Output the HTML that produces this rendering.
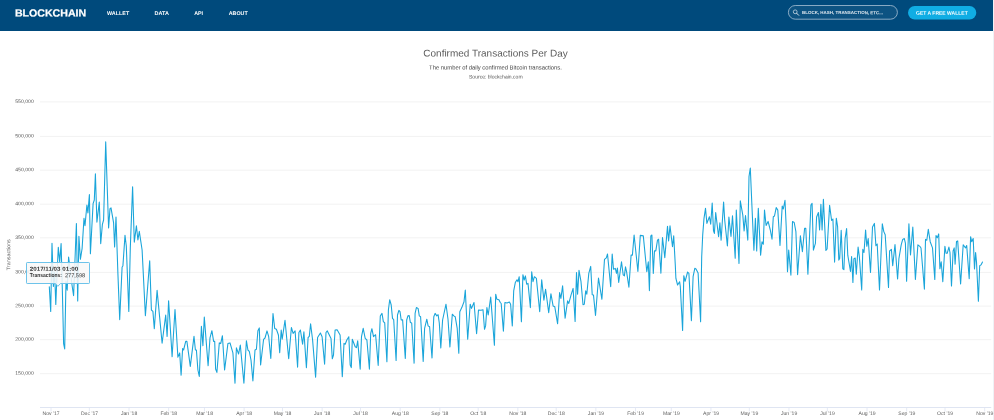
<!DOCTYPE html>
<html lang="en"><head><meta charset="utf-8"><title>Confirmed Transactions Per Day</title>
<style>
html,body{margin:0;padding:0;background:#fff;overflow:hidden}
body{width:994px;height:420px;position:relative;font-family:"Liberation Sans",sans-serif}
svg{position:absolute;left:0;top:0;display:block}
text{font-family:"Liberation Sans",sans-serif;text-rendering:geometricPrecision}
.b{font-weight:bold}
.ax{font-size:5.1px;fill:#5c5c5c}
.tt{font-family:"Liberation Sans",sans-serif;font-size:5.7px;fill:#333}
</style></head><body>
<svg width="994" height="420" viewBox="0 0 994 420">

<rect x="993" y="0" width="1" height="420" fill="#eff2f6"/>
<rect x="0" y="0" width="993" height="31" fill="#004a7c"/>
<text class="b" transform="rotate(0.03 50 16.5)" x="14.9" y="16.55" font-size="10.3" fill="#fff" stroke="#fff" stroke-width="0.2" textLength="71.3" lengthAdjust="spacingAndGlyphs">BLOCKCHAIN</text>
<text transform="rotate(0.03 107 14.9)" class="b" x="107" y="14.9" font-size="5.3" fill="#fff" textLength="22.2" lengthAdjust="spacingAndGlyphs">WALLET</text>
<text transform="rotate(0.03 154.5 14.9)" class="b" x="154.5" y="14.9" font-size="5.3" fill="#fff" textLength="14.4" lengthAdjust="spacingAndGlyphs">DATA</text>
<text transform="rotate(0.03 194.2 14.9)" class="b" x="194.2" y="14.9" font-size="5.3" fill="#fff" textLength="8.9" lengthAdjust="spacingAndGlyphs">API</text>
<text transform="rotate(0.03 228.7 14.9)" class="b" x="228.7" y="14.9" font-size="5.3" fill="#fff" textLength="19.0" lengthAdjust="spacingAndGlyphs">ABOUT</text>
<rect x="788.4" y="5.5" width="109" height="13.7" rx="6.85" ry="6.85" fill="#fff" fill-opacity="0.05" stroke="#a9c2d6" stroke-width="0.8"/>
<circle cx="795.2" cy="11.8" r="1.9" fill="none" stroke="#dbe6ee" stroke-width="0.7"/><path d="M796.7 13.3 L798.7 15.3" stroke="#dbe6ee" stroke-width="1" fill="none" stroke-linecap="round"/>
<text transform="rotate(0.03 802 14.1)" class="b" x="802" y="14.1" font-size="4.4" fill="#dfe8ef" textLength="81" lengthAdjust="spacingAndGlyphs">BLOCK, HASH, TRANSACTION, ETC...</text>
<rect x="908" y="6" width="68.3" height="13.4" rx="6.7" ry="6.7" fill="#10ade4"/>
<text transform="rotate(0.03 916 14.7)" class="b" x="916" y="14.7" font-size="5.2" fill="#fff" textLength="51.7" lengthAdjust="spacingAndGlyphs">GET A FREE WALLET</text>
<text transform="rotate(0.03 495.5 56.6)" x="495.5" y="56.6" font-size="9.8" fill="#5c5c5c" text-anchor="middle" textLength="144.4" lengthAdjust="spacingAndGlyphs">Confirmed Transactions Per Day</text>
<text transform="rotate(0.03 495.5 69.5)" x="495.5" y="69.5" font-size="6" fill="#444" text-anchor="middle" textLength="132.8" lengthAdjust="spacingAndGlyphs">The number of daily confirmed Bitcoin transactions.</text>
<text transform="rotate(0.03 495.8 78.5)" x="495.8" y="78.5" font-size="5.2" fill="#555" text-anchor="middle" textLength="53.6" lengthAdjust="spacingAndGlyphs">Source: blockchain.com</text>
<path d="M40 101.9 H991.2" stroke="#f2f2f2" stroke-width="1" fill="none"/>
<text transform="rotate(0.03 33.8 103.0)" class="ax" x="33.8" y="103.0" text-anchor="end" textLength="18.6" lengthAdjust="spacingAndGlyphs">550,000</text>
<path d="M40 136.4 H991.2" stroke="#f2f2f2" stroke-width="1" fill="none"/>
<text transform="rotate(0.03 33.8 137.5)" class="ax" x="33.8" y="137.5" text-anchor="end" textLength="18.6" lengthAdjust="spacingAndGlyphs">500,000</text>
<path d="M40 170.2 H991.2" stroke="#f2f2f2" stroke-width="1" fill="none"/>
<text transform="rotate(0.03 33.8 171.3)" class="ax" x="33.8" y="171.3" text-anchor="end" textLength="18.6" lengthAdjust="spacingAndGlyphs">450,000</text>
<path d="M40 204.2 H991.2" stroke="#f2f2f2" stroke-width="1" fill="none"/>
<text transform="rotate(0.03 33.8 205.3)" class="ax" x="33.8" y="205.3" text-anchor="end" textLength="18.6" lengthAdjust="spacingAndGlyphs">400,000</text>
<path d="M40 237.8 H991.2" stroke="#f2f2f2" stroke-width="1" fill="none"/>
<text transform="rotate(0.03 33.8 238.9)" class="ax" x="33.8" y="238.9" text-anchor="end" textLength="18.6" lengthAdjust="spacingAndGlyphs">350,000</text>
<path d="M40 272.4 H991.2" stroke="#f2f2f2" stroke-width="1" fill="none"/>
<text transform="rotate(0.03 33.8 273.5)" class="ax" x="33.8" y="273.5" text-anchor="end" textLength="18.6" lengthAdjust="spacingAndGlyphs">300,000</text>
<path d="M40 306.1 H991.2" stroke="#f2f2f2" stroke-width="1" fill="none"/>
<text transform="rotate(0.03 33.8 307.2)" class="ax" x="33.8" y="307.2" text-anchor="end" textLength="18.6" lengthAdjust="spacingAndGlyphs">250,000</text>
<path d="M40 339.7 H991.2" stroke="#f2f2f2" stroke-width="1" fill="none"/>
<text transform="rotate(0.03 33.8 340.8)" class="ax" x="33.8" y="340.8" text-anchor="end" textLength="18.6" lengthAdjust="spacingAndGlyphs">200,000</text>
<path d="M40 373.7 H991.2" stroke="#f2f2f2" stroke-width="1" fill="none"/>
<text transform="rotate(0.03 33.8 374.8)" class="ax" x="33.8" y="374.8" text-anchor="end" textLength="18.6" lengthAdjust="spacingAndGlyphs">150,000</text>
<text class="ax" transform="translate(10.3 254.8) rotate(-90.03)" text-anchor="middle" textLength="31" lengthAdjust="spacingAndGlyphs" font-size="5.3">Transactions</text>
<path d="M40 407.5 H991.2" stroke="#dfe5f2" stroke-width="1" fill="none"/>
<path d="M51.0 407.5 V411.5" stroke="#dfe5f2" stroke-width="0.8" fill="none"/>
<text transform="rotate(0.03 51.1 415.1)" class="ax" x="51.1" y="415.1" text-anchor="middle">Nov '17</text>
<path d="M89.37 407.5 V411.5" stroke="#dfe5f2" stroke-width="0.8" fill="none"/>
<text transform="rotate(0.03 89.5 415.1)" class="ax" x="89.5" y="415.1" text-anchor="middle">Dec '17</text>
<path d="M129.02 407.5 V411.5" stroke="#dfe5f2" stroke-width="0.8" fill="none"/>
<text transform="rotate(0.03 129.1 415.1)" class="ax" x="129.1" y="415.1" text-anchor="middle">Jan '18</text>
<path d="M168.67 407.5 V411.5" stroke="#dfe5f2" stroke-width="0.8" fill="none"/>
<text transform="rotate(0.03 168.8 415.1)" class="ax" x="168.8" y="415.1" text-anchor="middle">Feb '18</text>
<path d="M204.48 407.5 V411.5" stroke="#dfe5f2" stroke-width="0.8" fill="none"/>
<text transform="rotate(0.03 204.6 415.1)" class="ax" x="204.6" y="415.1" text-anchor="middle">Mar '18</text>
<path d="M244.13 407.5 V411.5" stroke="#dfe5f2" stroke-width="0.8" fill="none"/>
<text transform="rotate(0.03 244.2 415.1)" class="ax" x="244.2" y="415.1" text-anchor="middle">Apr '18</text>
<path d="M282.5 407.5 V411.5" stroke="#dfe5f2" stroke-width="0.8" fill="none"/>
<text transform="rotate(0.03 282.6 415.1)" class="ax" x="282.6" y="415.1" text-anchor="middle">May '18</text>
<path d="M322.15 407.5 V411.5" stroke="#dfe5f2" stroke-width="0.8" fill="none"/>
<text transform="rotate(0.03 322.2 415.1)" class="ax" x="322.2" y="415.1" text-anchor="middle">Jun '18</text>
<path d="M360.52 407.5 V411.5" stroke="#dfe5f2" stroke-width="0.8" fill="none"/>
<text transform="rotate(0.03 360.6 415.1)" class="ax" x="360.6" y="415.1" text-anchor="middle">Jul '18</text>
<path d="M400.17 407.5 V411.5" stroke="#dfe5f2" stroke-width="0.8" fill="none"/>
<text transform="rotate(0.03 400.3 415.1)" class="ax" x="400.3" y="415.1" text-anchor="middle">Aug '18</text>
<path d="M439.82 407.5 V411.5" stroke="#dfe5f2" stroke-width="0.8" fill="none"/>
<text transform="rotate(0.03 439.9 415.1)" class="ax" x="439.9" y="415.1" text-anchor="middle">Sep '18</text>
<path d="M478.19 407.5 V411.5" stroke="#dfe5f2" stroke-width="0.8" fill="none"/>
<text transform="rotate(0.03 478.3 415.1)" class="ax" x="478.3" y="415.1" text-anchor="middle">Oct '18</text>
<path d="M517.84 407.5 V411.5" stroke="#dfe5f2" stroke-width="0.8" fill="none"/>
<text transform="rotate(0.03 517.9 415.1)" class="ax" x="517.9" y="415.1" text-anchor="middle">Nov '18</text>
<path d="M556.21 407.5 V411.5" stroke="#dfe5f2" stroke-width="0.8" fill="none"/>
<text transform="rotate(0.03 556.3 415.1)" class="ax" x="556.3" y="415.1" text-anchor="middle">Dec '18</text>
<path d="M595.85 407.5 V411.5" stroke="#dfe5f2" stroke-width="0.8" fill="none"/>
<text transform="rotate(0.03 596.0 415.1)" class="ax" x="596.0" y="415.1" text-anchor="middle">Jan '19</text>
<path d="M635.5 407.5 V411.5" stroke="#dfe5f2" stroke-width="0.8" fill="none"/>
<text transform="rotate(0.03 635.6 415.1)" class="ax" x="635.6" y="415.1" text-anchor="middle">Feb '19</text>
<path d="M671.31 407.5 V411.5" stroke="#dfe5f2" stroke-width="0.8" fill="none"/>
<text transform="rotate(0.03 671.4 415.1)" class="ax" x="671.4" y="415.1" text-anchor="middle">Mar '19</text>
<path d="M710.96 407.5 V411.5" stroke="#dfe5f2" stroke-width="0.8" fill="none"/>
<text transform="rotate(0.03 711.1 415.1)" class="ax" x="711.1" y="415.1" text-anchor="middle">Apr '19</text>
<path d="M749.33 407.5 V411.5" stroke="#dfe5f2" stroke-width="0.8" fill="none"/>
<text transform="rotate(0.03 749.4 415.1)" class="ax" x="749.4" y="415.1" text-anchor="middle">May '19</text>
<path d="M788.98 407.5 V411.5" stroke="#dfe5f2" stroke-width="0.8" fill="none"/>
<text transform="rotate(0.03 789.1 415.1)" class="ax" x="789.1" y="415.1" text-anchor="middle">Jun '19</text>
<path d="M827.35 407.5 V411.5" stroke="#dfe5f2" stroke-width="0.8" fill="none"/>
<text transform="rotate(0.03 827.5 415.1)" class="ax" x="827.5" y="415.1" text-anchor="middle">Jul '19</text>
<path d="M867.0 407.5 V411.5" stroke="#dfe5f2" stroke-width="0.8" fill="none"/>
<text transform="rotate(0.03 867.1 415.1)" class="ax" x="867.1" y="415.1" text-anchor="middle">Aug '19</text>
<path d="M906.65 407.5 V411.5" stroke="#dfe5f2" stroke-width="0.8" fill="none"/>
<text transform="rotate(0.03 906.8 415.1)" class="ax" x="906.8" y="415.1" text-anchor="middle">Sep '19</text>
<path d="M945.02 407.5 V411.5" stroke="#dfe5f2" stroke-width="0.8" fill="none"/>
<text transform="rotate(0.03 945.1 415.1)" class="ax" x="945.1" y="415.1" text-anchor="middle">Oct '19</text>
<path d="M984.67 407.5 V411.5" stroke="#dfe5f2" stroke-width="0.8" fill="none"/>
<text transform="rotate(0.03 984.8 415.1)" class="ax" x="984.8" y="415.1" text-anchor="middle">Nov '19</text>
<path d="M49.3 286.8 L50.7 311.4 L52.0 243.3 L53.4 286.5 L54.6 272.0 L55.8 304.4 L57.1 272.0 L58.3 247.3 L59.7 262.0 L61.1 243.5 L62.3 288.0 L63.6 343.6 L64.7 349.0 L66.0 281.0 L67.2 290.2 L68.6 257.0 L70.0 268.0 L72.0 285.0 L73.6 295.6 L76.4 223.6 L77.7 301.0 L78.9 236.4 L80.4 259.3 L82.1 248.5 L84.0 218.3 L85.0 225.7 L86.9 205.0 L87.9 212.9 L89.4 194.5 L90.4 253.7 L93.1 203.6 L94.3 200.0 L95.4 173.9 L96.9 222.1 L99.3 202.1 L100.7 243.6 L102.4 224.3 L103.6 220.0 L105.7 141.9 L108.6 227.9 L110.0 208.6 L111.0 207.9 L113.6 222.9 L114.6 247.0 L116.0 217.1 L117.9 273.6 L119.7 319.6 L122.1 267.0 L122.9 266.0 L125.0 235.4 L126.3 246.0 L128.8 311.4 L130.3 248.0 L132.6 186.7 L134.3 242.1 L136.4 225.7 L137.9 240.0 L139.3 231.4 L142.1 250.0 L145.4 315.7 L149.7 260.7 L151.4 310.0 L152.9 311.4 L154.3 328.8 L157.1 290.4 L162.1 343.3 L165.7 315.0 L167.1 336.4 L168.6 300.7 L172.1 356.8 L175.0 309.5 L177.9 357.1 L179.7 352.9 L181.1 375.3 L182.6 348.6 L183.6 350.0 L185.7 341.4 L186.9 341.4 L190.3 366.4 L194.0 336.4 L195.4 350.0 L196.4 350.0 L197.9 370.0 L199.3 376.4 L201.4 326.4 L202.9 345.7 L204.3 317.1 L208.1 365.7 L210.0 337.9 L211.9 330.7 L213.6 341.4 L214.7 341.4 L215.6 369.0 L216.9 372.4 L219.3 342.9 L220.7 343.6 L222.4 335.7 L224.6 370.0 L227.9 343.6 L230.0 342.9 L232.9 352.9 L235.0 383.3 L236.4 347.9 L238.6 354.0 L240.3 345.0 L243.9 383.3 L246.4 340.7 L247.9 350.0 L249.3 351.4 L251.0 360.0 L252.9 381.0 L255.0 350.0 L256.4 349.3 L257.9 330.7 L259.3 327.9 L260.6 365.0 L263.6 339.3 L265.0 338.0 L267.0 330.9 L268.7 336.7 L270.8 358.5 L273.0 313.5 L274.7 328.4 L276.4 329.2 L278.4 335.0 L279.7 352.6 L281.2 330.0 L282.2 339.2 L285.0 320.3 L288.7 358.8 L291.4 327.5 L293.1 333.4 L295.1 330.9 L297.6 367.1 L298.9 332.5 L300.4 330.0 L302.6 344.2 L303.9 331.7 L306.4 367.6 L308.1 337.5 L309.3 336.4 L310.6 323.7 L312.6 340.0 L315.6 377.1 L317.6 337.5 L320.4 333.0 L322.1 336.7 L324.6 364.3 L326.0 332.5 L327.3 330.9 L329.3 335.0 L331.0 338.4 L332.3 358.8 L333.5 355.0 L335.1 330.0 L337.1 329.7 L340.1 335.0 L342.3 376.8 L344.0 343.4 L345.2 344.2 L346.8 340.0 L348.8 336.7 L350.2 365.1 L351.3 367.6 L352.3 339.2 L355.2 346.7 L356.5 347.6 L357.7 340.9 L360.2 369.3 L361.5 336.7 L363.2 328.4 L365.2 338.4 L366.9 340.0 L369.4 369.3 L370.7 333.4 L371.9 328.7 L373.5 336.7 L375.6 334.7 L378.2 365.4 L380.3 316.0 L382.0 313.4 L383.4 321.8 L384.7 322.6 L386.9 361.8 L388.4 310.0 L389.7 299.7 L391.2 305.0 L392.5 318.4 L393.7 319.7 L396.1 360.4 L397.5 315.0 L398.9 310.4 L400.0 311.7 L401.2 320.0 L402.6 319.7 L405.3 358.4 L406.7 320.0 L407.9 315.9 L409.2 315.6 L410.4 322.6 L411.7 323.0 L414.1 363.1 L415.1 313.4 L416.4 307.6 L418.1 308.4 L419.3 315.9 L420.6 316.7 L423.2 361.4 L424.6 328.4 L426.8 319.2 L428.1 325.9 L429.6 326.8 L432.0 358.0 L433.8 316.7 L435.1 313.4 L436.8 315.9 L438.1 314.7 L439.3 323.0 L440.8 347.9 L442.6 320.0 L446.0 304.2 L448.0 319.2 L449.9 347.0 L452.3 314.2 L453.8 315.9 L455.2 316.7 L457.2 328.4 L458.8 353.2 L459.8 311.7 L461.8 307.6 L464.0 301.7 L465.3 290.0 L467.7 339.3 L470.2 304.2 L471.5 308.4 L474.0 302.5 L476.6 333.7 L478.5 310.0 L481.0 310.3 L483.0 309.7 L484.5 329.3 L485.6 325.9 L486.9 307.6 L488.2 315.0 L490.7 297.0 L494.4 345.2 L495.7 294.2 L496.9 299.2 L498.9 299.7 L500.3 302.5 L501.2 303.5 L503.4 331.2 L504.9 302.5 L507.0 303.0 L509.4 302.0 L510.6 304.2 L512.3 325.9 L513.7 290.9 L515.3 282.6 L517.0 279.7 L518.0 281.7 L519.2 276.7 L521.4 321.8 L522.9 274.7 L524.2 280.0 L525.4 275.9 L526.7 284.2 L528.0 283.4 L530.4 307.6 L531.7 271.7 L533.0 281.7 L534.4 276.7 L536.4 278.4 L539.7 311.8 L541.7 279.7 L543.9 300.1 L545.6 289.2 L548.7 312.6 L550.9 293.7 L553.1 305.9 L554.8 306.8 L557.6 323.8 L559.6 292.6 L560.9 298.4 L562.6 285.9 L565.1 318.1 L567.6 300.9 L568.8 303.4 L571.0 295.1 L573.1 288.4 L575.1 321.5 L576.5 272.5 L577.6 294.2 L579.0 270.4 L581.0 281.7 L583.0 304.8 L584.3 304.3 L585.7 290.9 L586.8 294.2 L588.8 273.4 L590.7 266.4 L592.2 294.7 L593.5 295.1 L595.5 315.5 L598.5 278.0 L601.9 299.3 L604.5 259.3 L606.3 257.8 L607.5 254.0 L610.7 286.7 L612.2 254.0 L613.5 269.3 L615.3 268.4 L616.5 273.3 L617.4 268.1 L618.7 282.5 L621.5 261.8 L623.2 274.9 L624.4 275.9 L625.5 266.8 L626.6 271.8 L628.9 287.1 L631.1 255.1 L632.4 255.1 L634.1 235.0 L637.9 271.4 L640.3 235.4 L643.3 235.9 L646.8 271.7 L648.3 261.8 L649.4 290.6 L650.8 235.9 L651.9 235.0 L653.3 273.5 L654.5 250.9 L655.8 250.9 L657.5 240.1 L658.6 239.2 L660.9 273.3 L662.5 237.5 L664.8 257.6 L667.5 226.4 L668.6 240.9 L670.0 225.9 L672.5 246.7 L673.7 235.9 L675.3 265.1 L675.9 278.4 L677.6 285.0 L679.6 281.7 L680.3 286.5 L682.6 330.5 L683.8 275.7 L685.1 281.3 L687.6 272.0 L688.9 273.4 L691.4 320.6 L693.1 276.7 L694.8 268.3 L696.0 269.0 L698.1 273.0 L700.6 321.8 L701.7 256.8 L702.7 235.0 L704.0 218.4 L705.5 208.4 L706.9 223.4 L709.4 216.7 L710.7 224.2 L712.2 203.1 L713.5 230.9 L714.4 233.4 L715.7 212.6 L718.6 236.7 L719.9 222.8 L721.1 240.2 L723.6 202.1 L724.7 220.0 L727.4 245.9 L728.9 217.0 L731.0 236.5 L732.5 215.8 L735.2 258.3 L736.3 210.1 L739.0 263.4 L740.3 200.9 L742.8 215.1 L744.1 230.9 L745.5 215.5 L747.8 240.1 L749.0 176.7 L750.3 168.0 L751.8 203.0 L753.9 250.2 L755.4 218.4 L756.7 250.9 L758.3 208.4 L760.6 255.3 L762.0 241.7 L763.3 244.2 L764.5 210.1 L766.1 225.5 L768.1 221.4 L770.3 230.0 L772.0 239.2 L773.3 216.7 L774.5 216.0 L776.2 207.6 L777.8 210.1 L780.0 245.4 L782.2 206.0 L783.3 209.0 L785.0 200.4 L786.2 226.7 L787.5 271.8 L788.7 250.1 L790.9 275.3 L792.5 221.5 L794.2 222.5 L795.9 231.7 L797.6 274.6 L800.4 235.9 L802.4 251.8 L804.6 228.3 L805.8 228.4 L807.9 274.3 L810.9 205.1 L812.1 203.4 L813.4 250.1 L815.4 243.4 L816.6 217.0 L818.4 212.5 L819.6 230.0 L820.9 204.3 L822.1 230.0 L823.4 199.2 L825.9 250.4 L827.1 249.0 L829.6 205.4 L831.6 220.5 L832.9 219.0 L834.6 262.1 L836.3 218.2 L837.6 226.7 L838.8 260.1 L839.7 258.5 L841.2 230.4 L842.8 268.8 L843.9 269.6 L845.1 238.6 L846.6 228.6 L847.8 255.4 L850.5 271.5 L851.6 256.6 L852.9 282.4 L853.9 258.7 L855.2 258.0 L856.3 274.3 L858.1 247.0 L859.4 257.2 L861.7 289.9 L862.8 249.4 L864.0 252.5 L865.6 230.1 L866.8 246.3 L868.2 238.6 L870.5 272.5 L872.5 227.0 L874.4 223.4 L875.9 245.6 L877.2 244.0 L879.5 289.9 L882.3 223.9 L883.8 231.6 L885.2 234.7 L888.5 287.5 L889.6 251.0 L891.4 249.4 L892.7 265.8 L895.0 244.5 L897.6 279.0 L898.9 258.7 L901.2 244.8 L902.7 239.4 L904.3 238.6 L905.4 243.2 L906.6 281.3 L908.9 223.9 L910.5 254.9 L912.8 227.0 L915.4 279.5 L917.9 244.8 L919.8 246.3 L921.0 248.0 L924.4 289.1 L925.5 239.4 L926.8 240.2 L928.3 229.3 L930.2 241.7 L932.5 247.9 L934.8 279.5 L936.0 235.5 L937.3 237.8 L938.7 233.9 L939.9 268.8 L941.2 261.8 L942.8 281.6 L944.9 246.3 L946.1 253.3 L947.2 253.3 L948.9 247.1 L950.0 252.5 L951.5 286.0 L953.1 251.0 L954.2 247.9 L955.1 264.3 L956.5 241.4 L957.7 240.9 L960.6 284.0 L963.2 244.8 L965.5 247.9 L966.7 245.6 L969.2 278.7 L970.6 236.7 L971.7 241.7 L973.2 238.6 L974.5 269.0 L975.6 252.5 L976.5 262.0 L978.4 301.2 L979.7 265.7 L981.0 264.9 L982.5 262.0" fill="none" stroke="#1aa5da" stroke-width="1.08" stroke-linejoin="round" stroke-linecap="round"/>
<path d="M27.2 262.5 H88.8 Q89.5 262.5 89.5 263.2 V282.8 Q89.5 283.5 88.8 283.5 H60.5 L57.9 286.3 L55.4 283.5 H27.2 Q26.5 283.5 26.5 282.8 V263.2 Q26.5 262.5 27.2 262.5 Z" fill="#f8f8f8" fill-opacity="0.87" stroke="#6dc3ea" stroke-width="1"/>
<text transform="rotate(0.03 29.8 270.75)" class="tt b" x="29.8" y="270.75" textLength="48.3" lengthAdjust="spacingAndGlyphs">2017/11/03 01:00</text>
<text transform="rotate(0.03 29.8 277.15)" class="tt b" x="29.8" y="277.15" textLength="32.2" lengthAdjust="spacingAndGlyphs">Transactions:</text>
<text transform="rotate(0.03 65 277.15)" class="tt" x="65" y="277.15" textLength="20.2" lengthAdjust="spacingAndGlyphs" fill="#444">277,598</text>
</svg></body></html>
